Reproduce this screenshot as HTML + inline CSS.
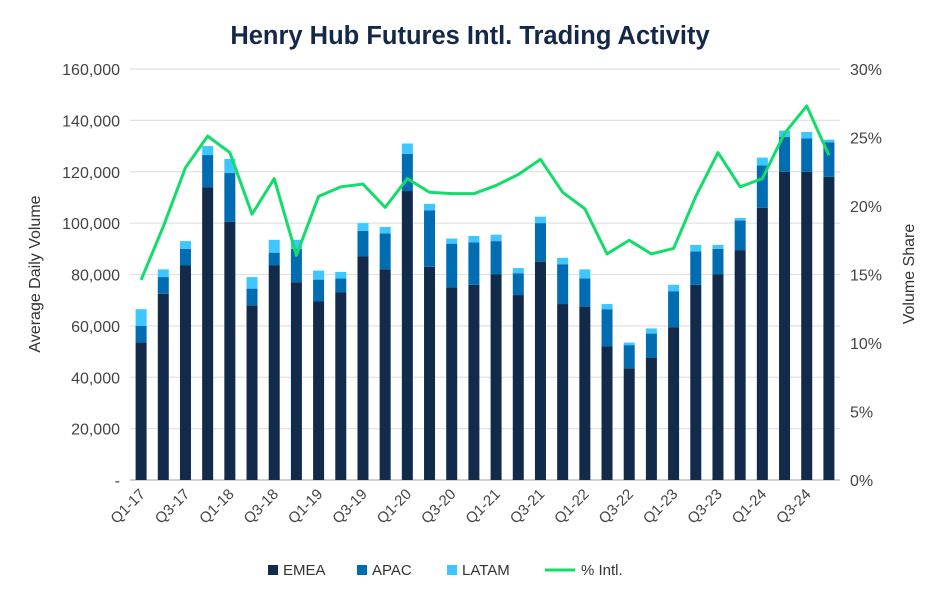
<!DOCTYPE html>
<html><head><meta charset="utf-8"><style>
body{margin:0;background:#fff;font-family:"Liberation Sans",sans-serif;}
svg text{font-family:"Liberation Sans",sans-serif;}
</style></head><body>
<svg id="chart" width="940" height="600" xmlns="http://www.w3.org/2000/svg">
<text x="470" y="44" text-anchor="middle" font-size="25.5" font-weight="bold" fill="#14294a">Henry Hub Futures Intl. Trading Activity</text>
<text transform="translate(40,274) rotate(-90)" text-anchor="middle" font-size="16" fill="#333">Average Daily Volume</text>
<text transform="translate(914,274) rotate(-90)" text-anchor="middle" font-size="16" fill="#333">Volume Share</text>
<g id="grid"></g><g id="bars"></g><g id="line"></g><g id="axes"></g>
<g font-size="15" fill="#333">
<rect x="268" y="565" width="10" height="10" fill="#132b4b"/>
<text x="283" y="575">EMEA</text>
<rect x="357" y="565" width="10" height="10" fill="#006db3"/>
<text x="372" y="575">APAC</text>
<rect x="447" y="565" width="10" height="10" fill="#3ec6ff"/>
<text x="462" y="575">LATAM</text>
<line x1="545" y1="570" x2="575" y2="570" stroke="#12dd6b" stroke-width="3"/>
<text x="581" y="575">% Intl.</text>
</g>
</svg>
<script>
const categories=["Q1-17","Q2-17","Q3-17","Q4-17","Q1-18","Q2-18","Q3-18","Q4-18","Q1-19","Q2-19","Q3-19","Q4-19","Q1-20","Q2-20","Q3-20","Q4-20","Q1-21","Q2-21","Q3-21","Q4-21","Q1-22","Q2-22","Q3-22","Q4-22","Q1-23","Q2-23","Q3-23","Q4-23","Q1-24","Q2-24","Q3-24","Q4-24"];
const emea=[53500,72500,83500,114000,100500,68000,83500,77000,69500,73000,87000,82000,112500,83000,75000,76000,80000,72000,85000,68500,67500,52000,43500,47500,59500,76000,80000,89500,106000,120000,120000,118000];
const apac=[6500,6500,6500,12500,19000,6500,5000,13000,8500,5500,10000,14000,14500,22000,17000,16500,13000,8500,15000,15500,11000,14500,9000,9500,14000,13000,10000,11500,16500,13500,13000,13500];
const latam=[6500,3000,3000,3500,5500,4500,5000,3500,3500,2500,3000,2500,4000,2500,2000,2500,2500,2000,2500,2500,3500,2000,1000,2000,2500,2500,1500,1000,3000,2500,2500,1000];
const pctIntl=[14.6,18.5,22.8,25.1,23.9,19.4,22.0,16.4,20.7,21.4,21.6,19.9,22.0,21.0,20.9,20.9,21.5,22.3,23.4,21.0,19.8,16.5,17.5,16.5,16.9,20.7,23.9,21.4,22.0,25.3,27.3,23.7];
const leftTicks=[0,20000,40000,60000,80000,100000,120000,140000,160000];
const leftLabels=["-","20,000","40,000","60,000","80,000","100,000","120,000","140,000","160,000"];
const rightTicks=[0,5,10,15,20,25,30];
const NS="http://www.w3.org/2000/svg";
const x0=130,x1=840,yTop=69,yBot=480;
const band=(x1-x0)/categories.length;
const xc=i=>x0+band*(i+0.5);
const y=v=>yBot-(v/160000)*(yBot-yTop);
const y2=p=>yBot-(p/30)*(yBot-yTop);
function mk(tag,attrs,parent){const e=document.createElementNS(NS,tag);for(const k in attrs)e.setAttribute(k,attrs[k]);parent.appendChild(e);return e;}
const grid=document.getElementById('grid'),bars=document.getElementById('bars'),line=document.getElementById('line'),axes=document.getElementById('axes');
leftTicks.forEach((t,i)=>{
 const g=mk('line',{x1:x0,x2:x1,y1:y(t),y2:y(t),stroke:i==0?'#d0d0d0':'#e2e2e2','stroke-width':i==0?2:1.3},grid);
 
 
 const l=mk('text',{x:120,y:y(t)+6,'text-anchor':'end','font-size':16,fill:'#444'},axes);
 l.textContent=leftLabels[i];
 
 
});
rightTicks.forEach(t=>{
 const l=mk('text',{x:850,y:y2(t)+6,'font-size':16,fill:'#444'},axes);
 l.textContent=t+'%';
 
 
});
const bw=11;
categories.forEach((c,i)=>{
 const segs=[[emea[i],'#132b4b','bar-emea'],[apac[i],'#006db3','bar-apac'],[latam[i],'#3ec6ff','bar-latam']];
 let base=0;
 segs.forEach(s=>{
  const r=mk('rect',{x:xc(i)-bw/2,y:y(base+s[0]),width:bw,height:y(base)-y(base+s[0]),fill:s[1]},bars);
  
  
  base+=s[0];
 });
 if(i%2==0){
  const t=mk('text',{x:0,y:0,'text-anchor':'end','font-size':15,fill:'#444',transform:`translate(${xc(i)+5},${495}) rotate(-45)`},axes);
  t.textContent=c;
  
  
 }
});
const pts=pctIntl.map((p,i)=>xc(i)+','+y2(p)).join(' ');
const pl=mk('polyline',{points:pts,fill:'none',stroke:'#12dd6b','stroke-width':3,'stroke-linejoin':'round'},line);


</script>
</body></html>
